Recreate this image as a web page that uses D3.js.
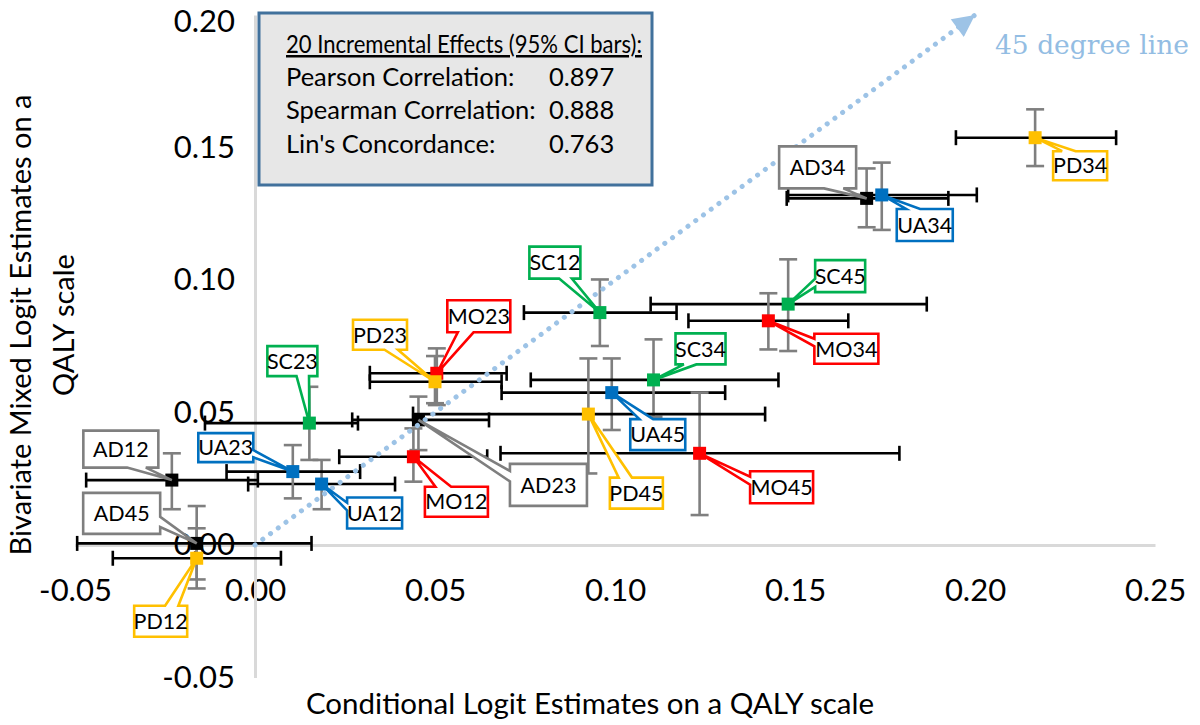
<!DOCTYPE html>
<html>
<head>
<meta charset="utf-8">
<script src="https://cdn.jsdelivr.net/npm/d3@7"></script>
<style>
    body { margin: 0; background: #fff; }
    svg { display: block; }
</style>
</head>
<body>
<svg id="chart-container" width="1200" height="725"></svg>
<script>
// 20 incremental effects (dimension + level step)
var effects = ["AD12", "AD23", "AD34", "AD45",
               "UA12", "UA23", "UA34", "UA45",
               "SC12", "SC23", "SC34", "SC45",
               "MO12", "MO23", "MO34", "MO45",
               "PD12", "PD23", "PD34", "PD45"];

// conditional logit estimate (x) with 95% CI
var clEst  = [-0.0231, 0.0454, 0.1699, -0.0162,  0.0185,  0.0105, 0.1741, 0.0991,
               0.0958, 0.0151, 0.1107,  0.1481,  0.0440,  0.0505, 0.1426, 0.1235,
              -0.0162, 0.0500, 0.2167,  0.0926];
var clLow  = [-0.0469, 0.0270, 0.1477, -0.0494, -0.0019, -0.0079, 0.1481, 0.0685,
               0.0747, -0.0139, 0.0766, 0.1099,  0.0234,  0.0319, 0.1204, 0.0682,
              -0.0395, 0.0319, 0.1947,  0.0439];
var clHigh = [ 0.0008, 0.0650, 0.1926,  0.0157,  0.0389,  0.0292, 0.2005, 0.1306,
               0.1171, 0.0286, 0.1454,  0.1866,  0.0645,  0.0699, 0.1648, 0.1790,
               0.0072, 0.0685, 0.2392,  0.1417];

// bivariate mixed logit estimate (y) with 95% CI
var bmlEst  = [0.0245, 0.0472, 0.1308,  0.0006, 0.0230, 0.0277, 0.1321, 0.0575,
               0.0877, 0.0460, 0.0623,  0.0909, 0.0333, 0.0648, 0.0846, 0.0346,
              -0.0050, 0.0616, 0.1537,  0.0494];
var bmlLow  = [0.0135, 0.0358, 0.1199, -0.0130, 0.0135, 0.0176, 0.1189, 0.0434,
               0.0751, 0.0321, 0.0484,  0.0732, 0.0239, 0.0528, 0.0738, 0.0113,
              -0.0164, 0.0535, 0.1430,  0.0270];
var bmlHigh = [0.0346, 0.0560, 0.1421,  0.0147, 0.0321, 0.0377, 0.1443, 0.0704,
               0.1002, 0.0597, 0.0776,  0.1078, 0.0440, 0.0742, 0.0950, 0.0575,
               0.0063, 0.0713, 0.1644,  0.0704];

var xTicks = [-0.05, 0, 0.05, 0.10, 0.15, 0.20, 0.25];
var yTicks = [-0.05, 0, 0.05, 0.10, 0.15, 0.20];

var statTitle = "20 Incremental Effects (95% CI bars):";
var statNames = ["Pearson Correlation:", "Spearman Correlation:", "Lin's Concordance:"];
var statValues = ["0.897", "0.888", "0.763"];

// colours per dimension
var markerColor = { AD: "#000000", UA: "#0070c0", SC: "#00b050", MO: "#ff0000", PD: "#ffc000" };
var borderColor = { AD: "#7f7f7f", UA: "#0070c0", SC: "#00b050", MO: "#ff0000", PD: "#ffc000" };

// callout box layout: offset of box centre from the point, box size (px)
var calloutLayout = {
    AD12: [-51, -31, 75, 37], AD23: [130, 65, 77, 42], AD34: [-49, -31, 77, 42], AD45: [-75, -30, 77, 41],
    UA12: [53, 29, 55, 31],   UA23: [-67, -24, 55, 29], UA34: [43, 30, 56, 32],  UA45: [46, 42, 55, 31],
    SC12: [-45, -50, 51, 32], SC23: [-17, -62, 50, 30], SC34: [47, -31, 50, 31], SC45: [52, -28, 50, 32],
    MO12: [43, 45, 63, 30],   MO23: [42, -57, 63, 32],  MO34: [78, 28, 64, 30],  MO45: [82, 34, 63, 32],
    PD12: [-36, 63, 53, 31],  PD23: [-55, -47, 54, 30], PD34: [45, 28, 54, 29],  PD45: [48, 79, 53, 31]
};

var data = effects.map((e, i) => ({
    name: e, cat: e.slice(0, 2),
    x: clEst[i], x0: clLow[i], x1: clHigh[i],
    y: bmlEst[i], y0: bmlLow[i], y1: bmlHigh[i]
}));

var font = "Lato, 'Open Sans', sans-serif";
var svg = d3.select("#chart-container");

var x = d3.scaleLinear().domain([-0.05, 0.25]).range([75, 1155]);
var y = d3.scaleLinear().domain([-0.05, 0.20]).range([677.5, 15]);

// Axes crossing at zero
var xAxis = svg.append("g")
    .attr("transform", `translate(0,${y(0)})`)
    .call(d3.axisBottom(x).tickValues(xTicks).tickFormat(d => d.toFixed(2))
        .tickSize(0).tickPadding(34));
var yAxis = svg.append("g")
    .attr("transform", `translate(${x(0)},0)`)
    .call(d3.axisLeft(y).tickValues(yTicks).tickFormat(d => d.toFixed(2))
        .tickSize(0).tickPadding(20));

[xAxis, yAxis].forEach(a => {
    a.attr("font-family", font).attr("font-size", 31);
    a.select(".domain").attr("stroke", "#d9d9d9").attr("stroke-width", 3);
    a.selectAll("text").attr("fill", "#000");
});
// keep the top tick label inside the frame
yAxis.selectAll(".tick text").filter(d => d === 0.20).attr("dy", "0.52em");

// Error bars
var bars = svg.append("g");
var capH = 7.5, capV = 9;

data.forEach(d => {
    var g = bars.append("g");
    var cy = y(d.y), cx = x(d.x);
    // horizontal (conditional logit CI)
    g.append("line").attr("x1", x(d.x0)).attr("x2", x(d.x1)).attr("y1", cy).attr("y2", cy)
        .attr("stroke", "#000").attr("stroke-width", 2.6);
    [d.x0, d.x1].forEach(v => {
        g.append("line").attr("x1", x(v)).attr("x2", x(v)).attr("y1", cy - capH).attr("y2", cy + capH)
            .attr("stroke", "#000").attr("stroke-width", 2.6);
    });
    // vertical (bivariate mixed logit CI)
    g.append("line").attr("x1", cx).attr("x2", cx).attr("y1", y(d.y0)).attr("y2", y(d.y1))
        .attr("stroke", "#7f7f7f").attr("stroke-width", 2.6);
    [d.y0, d.y1].forEach(v => {
        g.append("line").attr("x1", cx - capV).attr("x2", cx + capV).attr("y1", y(v)).attr("y2", y(v))
            .attr("stroke", "#7f7f7f").attr("stroke-width", 2.6);
    });
});

// Markers
svg.append("g")
    .selectAll("rect")
    .data(data)
    .join("rect")
        .attr("x", d => x(d.x) - 6.5)
        .attr("y", d => y(d.y) - 6.5)
        .attr("width", 13)
        .attr("height", 13)
        .attr("fill", d => markerColor[d.cat]);

// 45 degree line
svg.append("defs").append("marker")
    .attr("id", "arrow")
    .attr("viewBox", "0 0 10 10")
    .attr("refX", 10).attr("refY", 5)
    .attr("markerUnits", "userSpaceOnUse")
    .attr("markerWidth", 24).attr("markerHeight", 22)
    .attr("orient", "auto")
    .append("path")
        .attr("d", "M0,0L10,5L0,10Z")
        .attr("fill", "#9dc3e6");

svg.append("line")
    .attr("x1", x(0)).attr("y1", y(0))
    .attr("x2", x(0.2)).attr("y2", y(0.2))
    .attr("stroke", "#9dc3e6")
    .attr("stroke-width", 5)
    .attr("stroke-linecap", "round")
    .attr("stroke-dasharray", "0.1 9.5")
    .attr("marker-end", "url(#arrow)");

svg.append("text")
    .attr("x", 995).attr("y", 54)
    .attr("font-family", "'DejaVu Serif', serif")
    .attr("font-size", 26.5)
    .attr("fill", "#93bde3")
    .text("45 degree line");

// Statistics box
var box = svg.append("g");
box.append("rect")
    .attr("x", 259).attr("y", 13).attr("width", 393).attr("height", 172)
    .attr("fill", "#e7e7e7")
    .attr("stroke", "#41719c")
    .attr("stroke-width", 3);
box.append("text")
    .attr("x", 286).attr("y", 53)
    .attr("font-family", font).attr("font-size", 25)
    .attr("textLength", 356)
    .attr("lengthAdjust", "spacingAndGlyphs")
    .attr("text-decoration", "underline")
    .text(statTitle);
statNames.forEach((s, i) => {
    var t = box.append("text")
        .attr("y", 86 + i * 33.3)
        .attr("font-family", font).attr("font-size", 25.5);
    t.append("tspan").attr("x", 286).text(s);
    t.append("tspan").attr("x", 549).text(statValues[i]);
});

// Callout labels
function calloutPath(px, py, cx, cy, w, h) {
    var l = cx - w / 2, r = cx + w / 2, t = cy - h / 2, b = cy + h / 2;
    var dx = px - cx, dy = py - cy, pts;
    if (Math.abs(dy) / h >= Math.abs(dx) / w) {
        var a = dx > 0 ? l + w * 7 / 12 : l + w * 2 / 12;
        var c = dx > 0 ? l + w * 10 / 12 : l + w * 5 / 12;
        if (dy > 0) pts = [[l, t], [r, t], [r, b], [c, b], [px, py], [a, b], [l, b]];
        else pts = [[l, t], [a, t], [px, py], [c, t], [r, t], [r, b], [l, b]];
    } else {
        var a2 = dy > 0 ? t + h * 7 / 12 : t + h * 2 / 12;
        var c2 = dy > 0 ? t + h * 10 / 12 : t + h * 5 / 12;
        if (dx > 0) pts = [[l, t], [r, t], [r, a2], [px, py], [r, c2], [r, b], [l, b]];
        else pts = [[l, t], [r, t], [r, b], [l, b], [l, c2], [px, py], [l, a2]];
    }
    return "M" + pts.join("L") + "Z";
}

var callouts = svg.append("g");
data.forEach(d => {
    var lay = calloutLayout[d.name];
    var px = x(d.x), py = y(d.y);
    var cx = px + lay[0], cy = py + lay[1];
    callouts.append("path")
        .attr("d", calloutPath(px, py, cx, cy, lay[2], lay[3]))
        .attr("fill", "#fff")
        .attr("stroke", borderColor[d.cat])
        .attr("stroke-width", 2.6)
        .attr("stroke-linejoin", "miter");
    callouts.append("text")
        .attr("x", cx).attr("y", cy)
        .attr("dy", "0.36em")
        .attr("text-anchor", "middle")
        .attr("font-family", font).attr("font-size", 21.5)
        .text(d.name);
});

// Axis titles
svg.append("text")
    .attr("x", 590).attr("y", 714)
    .attr("text-anchor", "middle")
    .attr("font-family", font).attr("font-size", 29.5)
    .text("Conditional Logit Estimates on a QALY scale");

var yTitle = svg.append("text")
    .attr("transform", "translate(31,325) rotate(-90)")
    .attr("text-anchor", "middle")
    .attr("font-family", font).attr("font-size", 29);
yTitle.append("tspan").attr("x", 0).attr("y", 0).text("Bivariate Mixed Logit Estimates on a");
yTitle.append("tspan").attr("x", 0).attr("y", 43).text("QALY scale");
</script>
</body>
</html>
